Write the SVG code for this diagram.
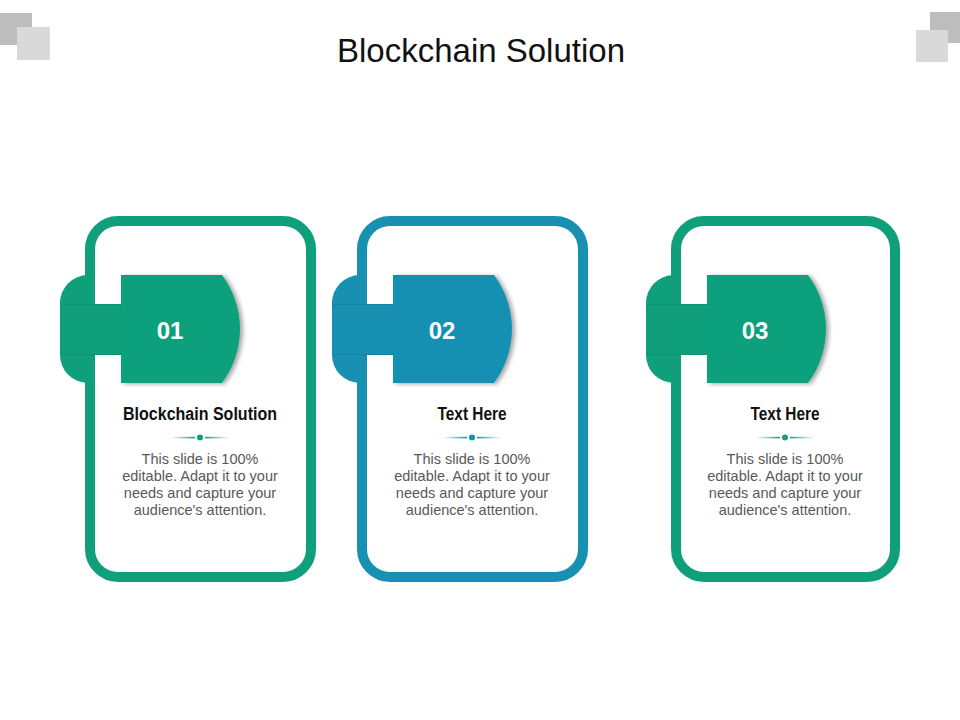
<svg xmlns="http://www.w3.org/2000/svg" width="960" height="720" viewBox="0 0 960 720">
<style>
.title{font-family:"Liberation Sans",Arial,sans-serif;font-size:33px;fill:#111}
.num{font-family:"Liberation Sans",Arial,sans-serif;font-size:24px;font-weight:bold;fill:#fff}
.head{font-family:"Liberation Sans Narrow","Liberation Sans",Arial,sans-serif;font-size:18px;font-weight:bold;fill:#111}
.body{font-family:"Liberation Sans",Arial,sans-serif;font-size:14.5px;fill:#595959}
.green{fill:#0FA07B}
.blue{fill:#1790B2}
.sep{stroke:#000;stroke-opacity:0.09;stroke-width:1}
</style>
<defs>
<filter id="sh" x="-20%" y="-20%" width="150%" height="140%">
<feDropShadow dx="3" dy="1" stdDeviation="2" flood-color="#000" flood-opacity="0.35"/>
</filter>
<linearGradient id="gL" x1="0" x2="1"><stop offset="0" stop-color="#0FA07B" stop-opacity="0"/><stop offset="1" stop-color="#0FA07B"/></linearGradient>
<linearGradient id="gR" x1="0" x2="1"><stop offset="0" stop-color="#0FA07B"/><stop offset="1" stop-color="#0FA07B" stop-opacity="0"/></linearGradient>
<linearGradient id="bL" x1="0" x2="1"><stop offset="0" stop-color="#1790B2" stop-opacity="0"/><stop offset="1" stop-color="#1790B2"/></linearGradient>
<linearGradient id="bR" x1="0" x2="1"><stop offset="0" stop-color="#1790B2"/><stop offset="1" stop-color="#1790B2" stop-opacity="0"/></linearGradient>
</defs>
<rect width="960" height="720" fill="#fff"/>
<g id="corners">
<rect x="0" y="13" width="32" height="32" fill="#BDBDBD"/>
<rect x="17" y="27" width="33" height="33" fill="#D9D9D9"/>
<rect x="930" y="12" width="30" height="31" fill="#BDBDBD"/>
<rect x="916" y="30" width="32" height="32" fill="#D9D9D9"/>
</g>
<text class="title" x="481" y="62" text-anchor="middle">Blockchain Solution</text>

<g id="card1" transform="translate(85,0)">
<rect x="5" y="221" width="221" height="356" rx="28" fill="#fff" stroke="#0FA07B" stroke-width="10"/>
<path class="green" d="M10,275 H3 A28,28 0 0 0 -25,303 V355 A28,28 0 0 0 3,383 H10 Z"/>
<rect class="green" x="-25" y="304" width="63" height="51"/>
<line class="sep" x1="-25" y1="304.5" x2="36" y2="304.5"/>
<line class="sep" x1="-25" y1="354.5" x2="36" y2="354.5"/>
<path class="green" filter="url(#sh)" d="M36,275 H137 A90,90 0 0 1 137,383 H36 Z"/>
<text class="num" x="85" y="339" text-anchor="middle">01</text>
<text class="head" x="115" y="420" text-anchor="middle" textLength="154" lengthAdjust="spacingAndGlyphs">Blockchain Solution</text>
<rect x="86" y="436.8" width="24" height="1.6" fill="url(#gL)"/>
<rect x="120" y="436.8" width="24" height="1.6" fill="url(#gR)"/>
<circle cx="115" cy="437.5" r="3" fill="#0FA07B"/>
<text class="body" text-anchor="middle"><tspan x="115" y="464">This slide is 100%</tspan><tspan x="115" y="481">editable. Adapt it to your</tspan><tspan x="115" y="498">needs and capture your</tspan><tspan x="115" y="515">audience's attention.</tspan></text>
</g>

<g id="card2" transform="translate(357,0)">
<rect x="5" y="221" width="221" height="356" rx="28" fill="#fff" stroke="#1790B2" stroke-width="10"/>
<path class="blue" d="M10,275 H3 A28,28 0 0 0 -25,303 V355 A28,28 0 0 0 3,383 H10 Z"/>
<rect class="blue" x="-25" y="304" width="63" height="51"/>
<line class="sep" x1="-25" y1="304.5" x2="36" y2="304.5"/>
<line class="sep" x1="-25" y1="354.5" x2="36" y2="354.5"/>
<path class="blue" filter="url(#sh)" d="M36,275 H137 A90,90 0 0 1 137,383 H36 Z"/>
<text class="num" x="85" y="339" text-anchor="middle">02</text>
<text class="head" x="115" y="420" text-anchor="middle" textLength="69" lengthAdjust="spacingAndGlyphs">Text Here</text>
<rect x="86" y="436.8" width="24" height="1.6" fill="url(#bL)"/>
<rect x="120" y="436.8" width="24" height="1.6" fill="url(#bR)"/>
<circle cx="115" cy="437.5" r="3" fill="#1790B2"/>
<text class="body" text-anchor="middle"><tspan x="115" y="464">This slide is 100%</tspan><tspan x="115" y="481">editable. Adapt it to your</tspan><tspan x="115" y="498">needs and capture your</tspan><tspan x="115" y="515">audience's attention.</tspan></text>
</g>

<g id="card3" transform="translate(671,0)">
<rect x="5" y="221" width="219" height="356" rx="28" fill="#fff" stroke="#0FA07B" stroke-width="10"/>
<path class="green" d="M10,275 H3 A28,28 0 0 0 -25,303 V355 A28,28 0 0 0 3,383 H10 Z"/>
<rect class="green" x="-25" y="304" width="63" height="51"/>
<line class="sep" x1="-25" y1="304.5" x2="36" y2="304.5"/>
<line class="sep" x1="-25" y1="354.5" x2="36" y2="354.5"/>
<path class="green" filter="url(#sh)" d="M36,275 H137 A90,90 0 0 1 137,383 H36 Z"/>
<text class="num" x="84" y="339" text-anchor="middle">03</text>
<text class="head" x="114" y="420" text-anchor="middle" textLength="69" lengthAdjust="spacingAndGlyphs">Text Here</text>
<rect x="85" y="436.8" width="24" height="1.6" fill="url(#gL)"/>
<rect x="119" y="436.8" width="24" height="1.6" fill="url(#gR)"/>
<circle cx="114" cy="437.5" r="3" fill="#0FA07B"/>
<text class="body" text-anchor="middle"><tspan x="114" y="464">This slide is 100%</tspan><tspan x="114" y="481">editable. Adapt it to your</tspan><tspan x="114" y="498">needs and capture your</tspan><tspan x="114" y="515">audience's attention.</tspan></text>
</g>
<g id="connectors"/>
</svg>
